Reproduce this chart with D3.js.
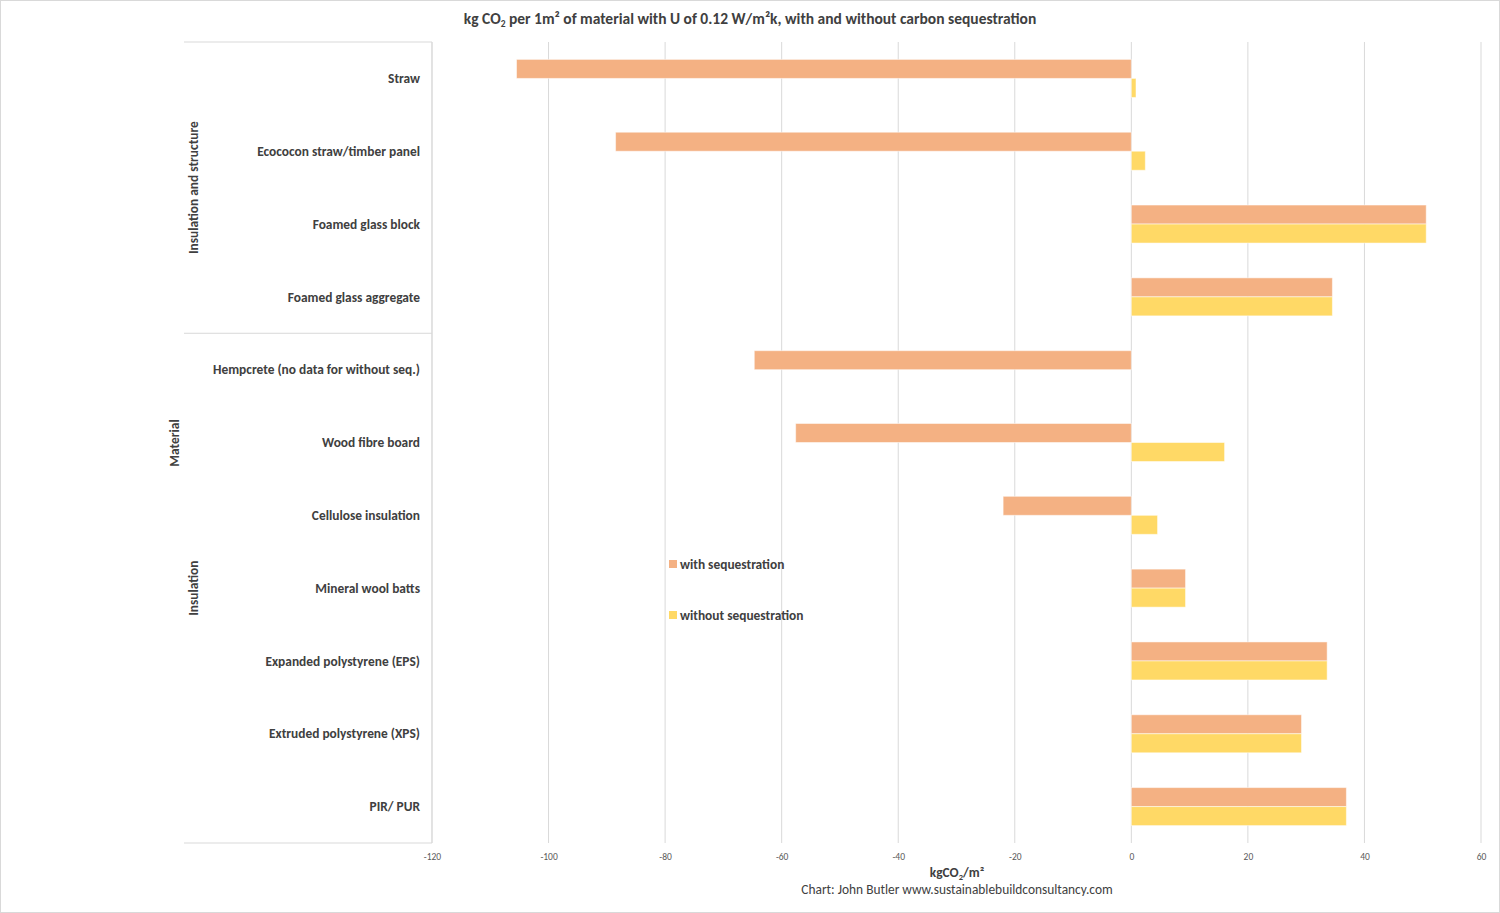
<!DOCTYPE html>
<html>
<head>
<meta charset="utf-8">
<script src="https://cdn.jsdelivr.net/npm/d3@7"></script>
<style>
  body { margin: 0; background: #fff; }
  svg { display: block; font-family: Carlito, Lato, "Open Sans", sans-serif; }
</style>
</head>
<body>
<script>
    // data
    const categories = ["Straw", "Ecococon straw/timber panel", "Foamed glass block", "Foamed glass aggregate",
        "Hempcrete (no data for without seq.)", "Wood fibre board", "Cellulose insulation", "Mineral wool batts",
        "Expanded polystyrene (EPS)", "Extruded polystyrene (XPS)", "PIR/ PUR"];
    const withSeq = [-105.5, -88.5, 50.6, 34.5, -64.7, -57.6, -22, 9.3, 33.6, 29.2, 36.9];
    const withoutSeq = [0.8, 2.4, 50.6, 34.5, null, 16.0, 4.5, 9.3, 33.6, 29.2, 36.9];
    const seriesNames = ["with sequestration", "without sequestration"];
    const seriesColors = ["#F4B183", "#FFD966"];
    const groups = [
        { name: "Insulation and structure", from: 0, to: 3 },
        { name: "Insulation", from: 4, to: 10 }
    ];
    const xTicks = [-120, -100, -80, -60, -40, -20, 0, 20, 40, 60];

    let width = 1500,
        height = 913;
    let labelSize = '13.4px';

    let svg = d3.select("body")
        .append("svg")
        .attr("width", width)
        .attr("height", height);

    // outer border
    svg.append('rect').attr('x', 0.5).attr('y', 0.5).attr('width', width - 1).attr('height', height - 1)
        .attr('fill', 'white').attr('stroke', '#d9d9d9');

    let plotL = 432, plotR = 1481, plotT = 42, plotB = 843;

    let x = d3.scaleLinear().domain([-120, 60]).range([plotL, plotR]);
    let y = d3.scaleBand().domain(categories).range([plotT, plotB]).paddingInner(0.478).paddingOuter(0.239);
    let ySub = d3.scaleBand().domain(seriesNames).range([0, y.bandwidth()]);
    let halfGap = y.step() * y.paddingInner() / 2;

    // gridlines
    svg.append('g').selectAll('line').data(xTicks).join('line')
        .attr('x1', d => x(d)).attr('x2', d => x(d))
        .attr('y1', plotT).attr('y2', plotB)
        .attr('stroke', '#d9d9d9').attr('stroke-width', 1);

    // category axis table lines
    let tableL = 184;
    let bounds = [0, 4, 11];
    let boundY = d => d < categories.length ? y(categories[d]) - halfGap : plotB;
    svg.append('g').selectAll('line').data(bounds).join('line')
        .attr('x1', tableL).attr('x2', plotL)
        .attr('y1', boundY).attr('y2', boundY)
        .attr('stroke', '#d9d9d9');
    svg.append('line').attr('x1', plotL).attr('x2', plotL).attr('y1', plotT).attr('y2', plotB)
        .attr('stroke', '#d9d9d9');

    // bars
    let rows = categories.map((c, i) => ({ c, vals: [withSeq[i], withoutSeq[i]] }));
    let barG = svg.append('g');
    rows.forEach(r => {
        r.vals.forEach((v, k) => {
            if (v === null) return;
            barG.append('rect')
                .attr('x', x(Math.min(0, v)))
                .attr('y', y(r.c) + ySub(seriesNames[k]))
                .attr('width', Math.abs(x(v) - x(0)))
                .attr('height', ySub.bandwidth())
                .attr('fill', seriesColors[k])
                .attr('stroke', 'rgba(255,255,255,0.5)')
                .attr('stroke-width', 1);
        });
    });

    // category labels
    svg.append('g').selectAll('text').data(categories).join('text')
        .attr('x', 420)
        .attr('y', d => y(d) + y.bandwidth() / 2)
        .attr('dy', '0.35em')
        .attr('text-anchor', 'end')
        .attr('font-size', labelSize)
        .attr('font-weight', 'bold')
        .attr('fill', '#404040')
        .text(d => d);

    // group labels
    groups.forEach(g => {
        let top = y(categories[g.from]) - halfGap;
        let bot = y(categories[g.to]) + y.bandwidth() + halfGap;
        let cy = (top + bot) / 2;
        svg.append('text')
            .attr('transform', `translate(198,${cy}) rotate(-90)`)
            .attr('text-anchor', 'middle')
            .attr('font-size', labelSize)
            .attr('font-weight', 'bold')
            .attr('fill', '#404040')
            .text(g.name);
    });
    svg.append('text')
        .attr('transform', `translate(179,443) rotate(-90)`)
        .attr('text-anchor', 'middle')
        .attr('font-size', labelSize)
        .attr('font-weight', 'bold')
        .attr('fill', '#404040')
        .text('Material');

    // x axis labels
    let xAxis = d3.axisBottom(x).tickValues(xTicks).tickSize(0).tickPadding(0).tickFormat(d => d);
    let axG = svg.append('g').attr('transform', `translate(0,${plotB + 10})`).call(xAxis);
    axG.select('.domain').remove();
    axG.selectAll('text').attr('font-size', '9.5px').attr('fill', '#595959')
        .attr('font-family', 'Carlito, Lato, sans-serif');

    // axis title
    let at = svg.append('text').attr('x', 957).attr('y', 877).attr('text-anchor', 'middle')
        .attr('font-size', labelSize).attr('font-weight', 'bold').attr('fill', '#404040');
    at.append('tspan').text('kgCO');
    at.append('tspan').attr('font-size', '8.5px').attr('dy', 3).text('2');
    at.append('tspan').attr('dy', -3).text('/m²');
    svg.append('text').attr('x', 957).attr('y', 894).attr('text-anchor', 'middle')
        .attr('font-size', labelSize).attr('fill', '#404040')
        .text('Chart: John Butler www.sustainablebuildconsultancy.com');

    // title
    let tt = svg.append('text').attr('x', 750).attr('y', 24).attr('text-anchor', 'middle')
        .attr('font-size', '15.5px').attr('font-weight', 'bold').attr('fill', '#404040');
    tt.append('tspan').text('kg CO');
    tt.append('tspan').attr('font-size', '9.5px').attr('dy', 3).text('2');
    tt.append('tspan').attr('dy', -3).text(' per 1m² of material with U of 0.12 W/m²k, with and without carbon sequestration');

    // legend
    let legY = [564, 615];
    seriesNames.forEach((s, k) => {
        svg.append('rect').attr('x', 669).attr('y', legY[k] - 4).attr('width', 8).attr('height', 8)
            .attr('fill', seriesColors[k]);
        svg.append('text').attr('x', 680).attr('y', legY[k]).attr('dy', '0.35em')
            .attr('font-size', labelSize).attr('font-weight', 'bold').attr('fill', '#404040')
            .text(s);
    });
</script>
</body>
</html>
